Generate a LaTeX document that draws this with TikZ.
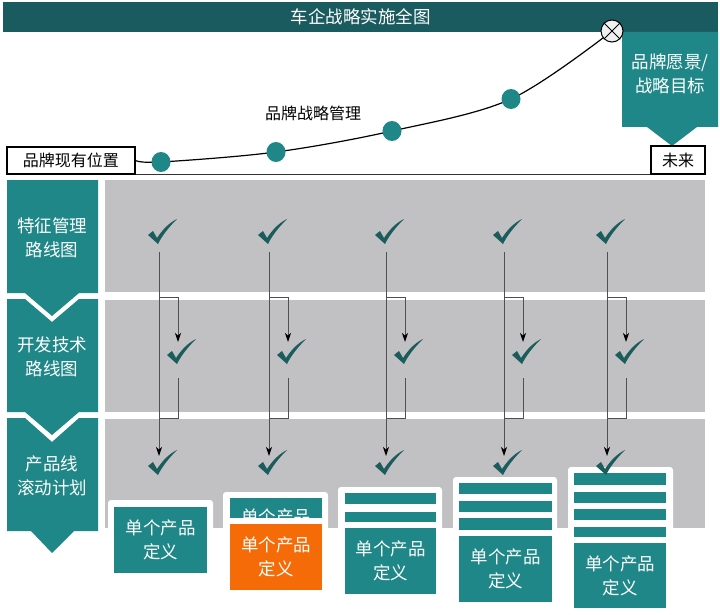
\documentclass[tikz,border=0pt]{standalone}
\usepackage{fontspec}
\setmainfont{Noto Sans CJK SC}
\usetikzlibrary{arrows.meta,calc,shapes.geometric}
\definecolor{barteal}{HTML}{1A5B5F}
\definecolor{tealA}{HTML}{1F8787}
\definecolor{chkcol}{HTML}{1B5C5C}
\definecolor{panelgray}{HTML}{C1C0C3}
\definecolor{orng}{HTML}{F46B08}
\definecolor{conncol}{HTML}{505050}
\begin{document}
\begin{tikzpicture}[x=1pt,y=-1pt,
  titlebar/.style={fill=barteal,text=white,minimum width=715pt,minimum height=30pt,inner sep=0pt,font=\fontsize{17.5}{20}\selectfont},
  lbox/.style={draw=black,line width=1.1pt,fill=white,inner sep=0pt,font=\fontsize{16}{18}\selectfont},
  plainlbl/.style={font=\fontsize{16}{18}\selectfont,inner sep=0pt},
  dotn/.style={ellipse,fill=tealA,minimum width=19pt,minimum height=20pt,inner sep=0pt},
  xcirc/.style={circle,draw=black,line width=1pt,fill=gray!12,minimum size=22pt,inner sep=0pt},
  whtxt/.style={text=white,align=center,inner sep=0pt,font=\fontsize{17.5}{24}\selectfont},
  prod/.style={fill=tealA,minimum width=92pt,minimum height=66pt,inner sep=0pt,text=white,align=center,font=\fontsize{17.5}{24}\selectfont},
  outerbox/.style={fill=white,rounded corners=3pt},
  conn/.style={draw=conncol,line width=1pt},
  tip/.style={-{Stealth[length=9pt,width=6pt,inset=2.5pt,color=black]}},
  chkmk/.pic={\fill[chkcol] (-9,-8) -- (-4,-12) -- (0,-5) .. controls (6,-14) and (12,-20) .. (20,-24) .. controls (11,-15) and (5,-7) .. (1,1) -- cycle;}
]
\useasboundingbox (0,0) rectangle (720,615);
\fill[white] (0,0) rectangle (720,615);

% ---------- top part ----------
\node[titlebar] (title) at (360.5,17) {车企战略实施全图};
\fill[tealA] (622,32) -- (718,32) -- (718,127) -- (697,127) -- (672,146) -- (647,127) -- (622,127) -- cycle;
\node[whtxt] (goal) at (670,74) {品牌愿景/\\战略目标};

\node[lbox,minimum width=128pt,minimum height=27pt] (pos) at (71,160.5) {品牌现有位置};
\node[lbox,minimum width=54pt,minimum height=28pt] (fut) at (678,160) {未来};
\draw[line width=1pt,black!80] (pos.south east) -- (fut.south west);

\coordinate (pd1) at (161,162);
\coordinate (pd2) at (276,152);
\coordinate (pd3) at (392,131);
\coordinate (pd4) at (511,99);
\coordinate (pxc) at (612,31);
\draw[line width=1.2pt,black] plot[smooth,tension=0.55] coordinates {(pos.east) (pd1) (pd2) (pd3) (pd4) (pxc)};
\node[dotn] (d1) at (pd1) {};
\node[dotn] (d2) at (pd2) {};
\node[dotn] (d3) at (pd3) {};
\node[dotn] (d4) at (pd4) {};
\node[xcirc] (xc) at (pxc) {};
\draw[line width=1pt] (xc.45) -- (xc.225) (xc.135) -- (xc.315);
\node[plainlbl] (mgmt) at (313,113) {品牌战略管理};

% ---------- chevrons ----------
\fill[tealA] (7,180) -- (98,180) -- (98,293) -- (79,293) -- (52,316) -- (25,293) -- (7,293) -- cycle;
\fill[tealA] (7,299) -- (25,299) -- (52,322) -- (79,299) -- (98,299) -- (98,412) -- (79,412) -- (52,435) -- (25,412) -- (7,412) -- cycle;
\fill[tealA] (7,418) -- (25,418) -- (52,442) -- (79,418) -- (98,418) -- (98,531) -- (74,531) -- (52,553) -- (31,531) -- (7,531) -- cycle;
\node[whtxt] (r1) at (52,237.5) {特征管理\\路线图};
\node[whtxt] (r2) at (52,357) {开发技术\\路线图};
\node[whtxt] (r3) at (52,476) {产品线\\滚动计划};

% ---------- panels ----------
\fill[panelgray] (105,180) rectangle (705,292);
\fill[panelgray] (105,300) rectangle (705,412);
\fill[panelgray] (105,419) rectangle (705,528);

% ---------- connectors ----------
\foreach \i/\X in {1/159,2/269,3/386,4/504,5/607}{
  \coordinate (a\i) at (\X,252);
  \coordinate (b\i) at (\X,456);
  \coordinate (e\i) at (\X,297);
  \coordinate (f\i) at (\X+19,342);
  \coordinate (g\i) at (\X+19,378);
  \coordinate (h\i) at (\X,418);
  \draw[conn,tip] (a\i) -- (b\i);
  \draw[conn,tip] (e\i) -| (f\i);
  \draw[conn] (g\i) |- (h\i);
}

% ---------- product boxes ----------
% col 1
\fill[outerbox] (108,500) rectangle (213,579);
\node[prod,minimum width=93pt] (p1) at (160.5,540) {单个产品\\定义};
% col 2
\fill[outerbox] (223,492) rectangle (328,596);
\node[prod,minimum height=40pt] (p2b) at (276,518) {};
\node[whtxt] (p2bt) at (276,517) {单个产品};
\fill[white] (223,518) rectangle (328,524);
\node[prod,fill=orng] (p2) at (276,557) {单个产品\\定义};
% col 3
\fill[outerbox] (338,487) rectangle (442,600);
\fill[tealA] (345,493) rectangle (436,504);
\fill[tealA] (345,512) rectangle (436,522);
\node[prod,minimum width=91pt] (p3) at (390.5,561) {单个产品\\定义};
% col 4
\fill[outerbox] (453,477) rectangle (557,608);
\fill[tealA] (459,483) rectangle (552,494);
\fill[tealA] (459,501) rectangle (552,512);
\fill[tealA] (459,518) rectangle (552,530);
\node[prod,minimum width=93pt] (p4) at (505.5,569) {单个产品\\定义};
% col 5
\fill[outerbox] (568,467) rectangle (673,614);
\fill[tealA] (574,473) rectangle (666,485);
\fill[tealA] (574,492) rectangle (666,503);
\fill[tealA] (574,509) rectangle (666,520);
\fill[tealA] (574,527) rectangle (666,537);
\node[prod,minimum height=65pt] (p5) at (620,575.5) {单个产品\\定义};

% ---------- checks ----------
\foreach \X in {159,269,386,504,607}{
  \pic at (\X-2,243) {chkmk};
  \pic at (\X+17,363) {chkmk};
  \pic at (\X-2,474) {chkmk};
}
\end{tikzpicture}
\end{document}
